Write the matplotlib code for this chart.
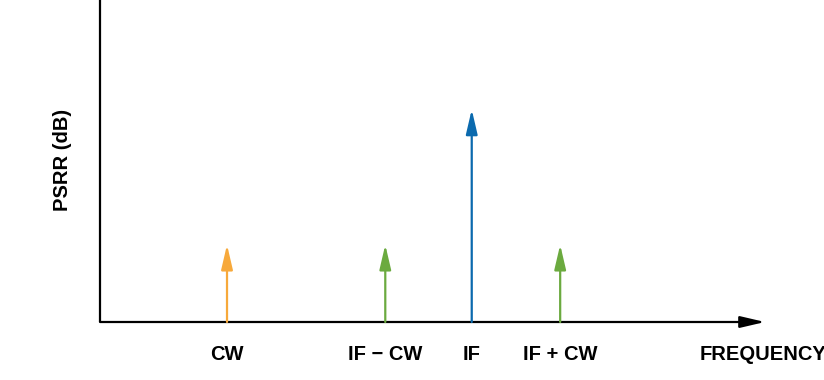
import matplotlib.pyplot as plt

plt.rcParams['font.family'] = ['Liberation Sans', 'DejaVu Sans']

# tones on the frequency axis (arbitrary units) and their relative levels
labels = ['CW', 'IF \u2212 CW', 'IF', 'IF + CW']
freqs = [1.91, 4.29, 5.59, 6.92]
levels = [2.4, 2.4, 6.6, 2.4]
colors = ['#F7A93B', '#6BAA3F', '#0B6AAE', '#6BAA3F']

fig = plt.figure(figsize=(8.24, 3.80), dpi=100)
ax = fig.add_axes([100 / 824, 58 / 380, 665 / 824, 322 / 380])
ax.set_xlim(0, 10)
ax.set_ylim(0, 10)
for s in ax.spines.values():
    s.set_visible(False)
ax.set_xticks([])
ax.set_yticks([])

# axes: left line and arrowed frequency axis
ax.plot([0, 0], [0, 10], color='black', lw=1.6, clip_on=False, solid_capstyle='butt')
ax.annotate('', xy=(10, 0), xytext=(0, 0),
            arrowprops=dict(arrowstyle='-|>,head_length=1.5,head_width=0.35',
                            color='black', lw=1.6, shrinkA=0, shrinkB=0),
            annotation_clip=False)

for f, lv, c, lab in zip(freqs, levels, colors, labels):
    ax.annotate('', xy=(f, lv), xytext=(f, 0),
                arrowprops=dict(arrowstyle='-|>,head_length=1.5,head_width=0.35',
                                color=c, lw=1.6, shrinkA=0, shrinkB=0))
    ax.text(f, -1.0, lab, ha='center', va='center', fontsize=14.5,
            fontweight='bold', transform=ax.transData, clip_on=False)

fig.text(700 / 824, 1 - 354 / 380, 'FREQUENCY', ha='left', va='center',
         fontsize=14.5, fontweight='bold')
fig.text(63 / 824, 1 - 160 / 380, 'PSRR (dB)', ha='center', va='center',
         rotation=90, fontsize=14.5, fontweight='bold')

fig.savefig('out.png', dpi=100)
